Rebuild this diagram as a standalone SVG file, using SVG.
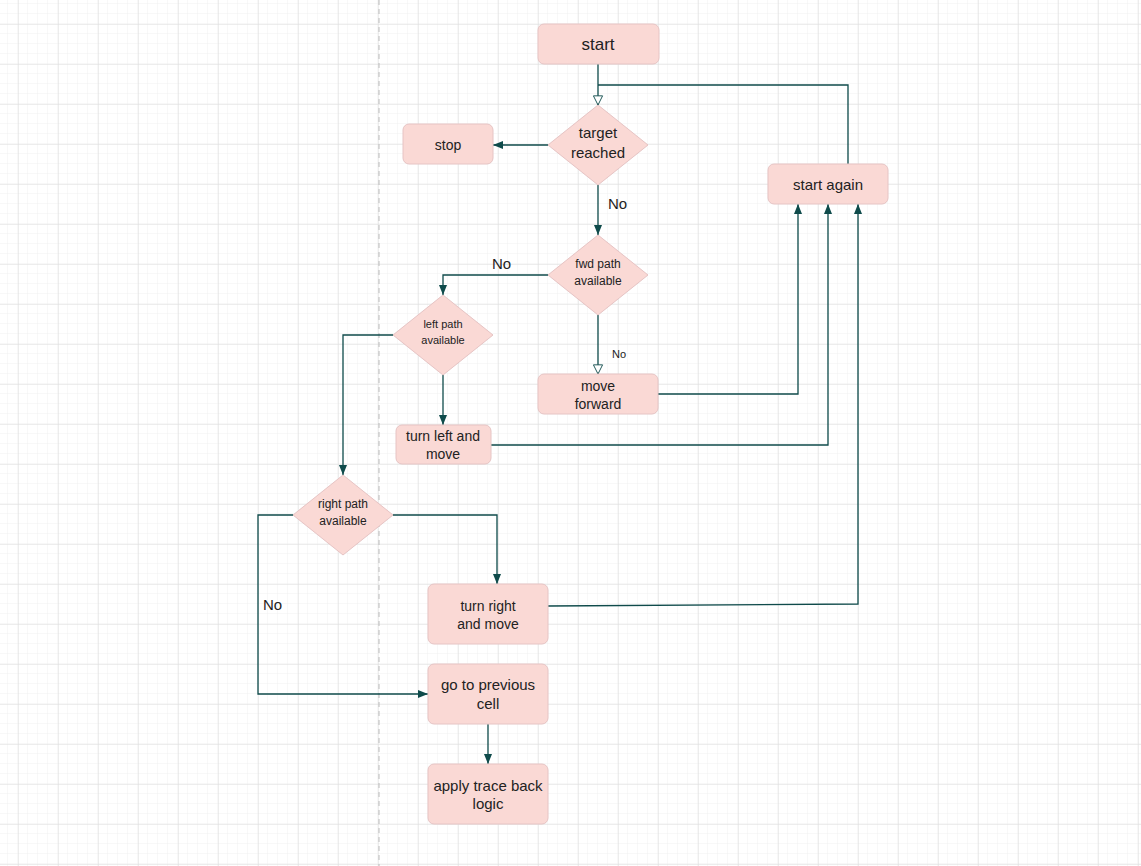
<svg xmlns="http://www.w3.org/2000/svg" width="1141" height="866" viewBox="0 0 1141 866">
<defs>
<pattern id="minor" x="8" y="4" width="10" height="10" patternUnits="userSpaceOnUse"><path d="M10 0V10M0 10H10" fill="none" stroke="#f0f0f0" stroke-width="1"/></pattern>
<pattern id="major" x="18" y="24" width="40" height="40" patternUnits="userSpaceOnUse"><path d="M0 0V40M0 0H40" fill="none" stroke="#dcdcdc" stroke-width="1"/></pattern>
<marker id="fa" viewBox="0 0 10 10" refX="10" refY="5" markerWidth="8" markerHeight="8" orient="auto"><path d="M0 1L10 5L0 9Z" fill="#0f4b4b"/></marker>
<marker id="oa" viewBox="0 0 12 12" refX="11" refY="6" markerWidth="11" markerHeight="11" orient="auto" markerUnits="userSpaceOnUse"><path d="M1 1L11 6L1 11Z" fill="#fff" stroke="#0f4b4b" stroke-width="1"/></marker>
<style>
.n{fill:#fad9d5;stroke:#e6c4c4;stroke-width:1}
.t{font-family:"Liberation Sans",Arial,sans-serif;font-size:15px;fill:#222;text-anchor:middle}
.s{font-size:12px}
.c{fill:none;stroke:#0f4b4b;stroke-width:1.3}
.l{font-family:"Liberation Sans",Arial,sans-serif;font-size:15px;fill:#222}
</style>
</defs>
<rect width="1141" height="866" fill="#fff"/>
<rect width="1141" height="866" fill="url(#minor)"/>
<rect width="1141" height="866" fill="url(#major)"/>
<line x1="379" y1="0" x2="379" y2="866" stroke="#bbb" stroke-dasharray="5,4"/>
<g id="connectors">
<path class="c" d="M598 64V105" marker-end="url(#oa)"/>
<path class="c" d="M848 164V85H598"/>
<path class="c" d="M548 145H493" marker-end="url(#fa)"/>
<path class="c" d="M598 185V235" marker-end="url(#fa)"/>
<path class="c" d="M548 275H443V295" marker-end="url(#fa)"/>
<path class="c" d="M598 315V374" marker-end="url(#oa)"/>
<path class="c" d="M658 394H798V204" marker-end="url(#fa)"/>
<path class="c" d="M443 375V425" marker-end="url(#fa)"/>
<path class="c" d="M393 335H343V475" marker-end="url(#fa)"/>
<path class="c" d="M491 445H828V204" marker-end="url(#fa)"/>
<path class="c" d="M393 515H497V584" marker-end="url(#fa)"/>
<path class="c" d="M293 515H258V694H428" marker-end="url(#fa)"/>
<path class="c" d="M548 606L858 604V204" marker-end="url(#fa)"/>
<path class="c" d="M488 724V764" marker-end="url(#fa)"/>
<text class="l" x="608" y="209">No</text>
<text class="l" x="492" y="269">No</text>
<text class="l" x="612" y="358" style="font-size:11px">No</text>
<text class="l" x="263" y="610">No</text>
</g>
<g id="start"><rect class="n" x="538" y="24" width="121" height="40" rx="6"/><text class="t" x="598" y="50" style="font-size:17px">start</text></g>
<g id="target"><path class="n" d="M598 105L648 145L598 185L548 145Z"/><text class="t" x="598" y="138">target</text><text class="t" x="598" y="158">reached</text></g>
<g id="stop"><rect class="n" x="403" y="124" width="90" height="40" rx="6"/><text class="t" x="448" y="150" style="font-size:14px">stop</text></g>
<g id="startagain"><rect class="n" x="768" y="164" width="120" height="40" rx="6"/><text class="t" x="828" y="190">start again</text></g>
<g id="fwd"><path class="n" d="M598 235L648 275L598 315L548 275Z"/><text class="t s" x="598" y="268">fwd path</text><text class="t s" x="598" y="285">available</text></g>
<g id="left"><path class="n" d="M443 295L493 335L443 375L393 335Z"/><text class="t" x="443" y="328" style="font-size:11px">left path</text><text class="t" x="443" y="344" style="font-size:11px">available</text></g>
<g id="moveforward"><rect class="n" x="538" y="374" width="120" height="40" rx="6"/><text class="t s" x="598" y="391" style="font-size:14px">move</text><text class="t" x="598" y="409" style="font-size:14px">forward</text></g>
<g id="turnleft"><rect class="n" x="396" y="425" width="95" height="39" rx="6"/><text class="t" x="443" y="441" style="font-size:14px">turn left and</text><text class="t" x="443" y="459" style="font-size:14px">move</text></g>
<g id="right"><path class="n" d="M343 475L393 515L343 555L293 515Z"/><text class="t s" x="343" y="508">right path</text><text class="t s" x="343" y="525">available</text></g>
<g id="turnright"><rect class="n" x="428" y="584" width="120" height="60" rx="6"/><text class="t" x="488" y="611" style="font-size:14px">turn right</text><text class="t" x="488" y="629" style="font-size:14px">and move</text></g>
<g id="goprev"><rect class="n" x="428" y="664" width="120" height="60" rx="6"/><text class="t" x="488" y="690">go to previous</text><text class="t" x="488" y="709">cell</text></g>
<g id="traceback"><rect class="n" x="428" y="764" width="120" height="60" rx="6"/><text class="t" x="488" y="791">apply trace back</text><text class="t" x="488" y="809">logic</text></g>
</svg>
